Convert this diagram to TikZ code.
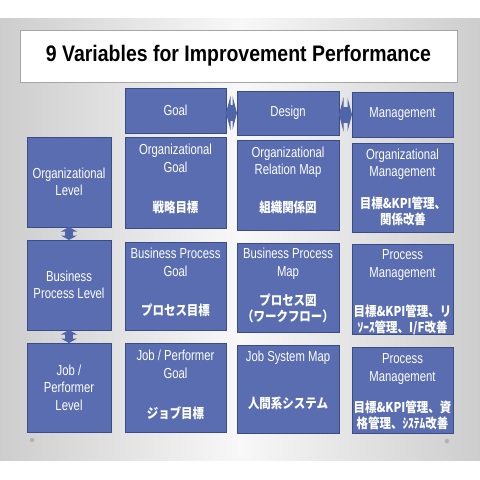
\documentclass[tikz,border=0pt]{standalone}
\usepackage{fontspec}
\setmainfont{Liberation Sans}[FakeStretch=0.78]
\newfontfamily\titlefont{Liberation Sans}[FakeStretch=0.865]
\newfontfamily\jpfont{Noto Sans CJK JP}[FakeStretch=0.85]
\usetikzlibrary{arrows.meta}
\definecolor{boxfill}{RGB}{89,109,176}
\definecolor{boxline}{RGB}{58,76,138}
\definecolor{arrcol}{RGB}{80,100,168}
\definecolor{bgedge}{RGB}{205,205,205}
\definecolor{bgmid}{RGB}{248,248,248}
\tikzset{
  box/.style={draw=boxline, fill=boxfill, line width=0.9pt, inner sep=0pt, outer sep=0pt,
    text=white, align=center, font=\fontsize{14.5}{17.5}\selectfont},
  en/.style={text=white, align=center, inner sep=0pt, font=\fontsize{14.5}{17.5}\selectfont},
  jp/.style={text=white, align=center, inner sep=0pt, font=\jpfont\bfseries\fontsize{13.5}{16}\selectfont},
  harr/.style={draw=arrcol, line width=16pt, {Triangle[length=4.5pt,width=34pt]}-{Triangle[length=4.5pt,width=34pt]}},
  varr/.style={draw=arrcol, line width=8pt, {Triangle[length=4.5pt,width=16pt]}-{Triangle[length=4.5pt,width=16pt]}},
  dot/.style={fill=gray!60, draw=none, circle, inner sep=0pt, minimum size=4.5pt}
}
\begin{document}
\begin{tikzpicture}[x=1pt,y=-1pt]
\useasboundingbox (0,0) rectangle (480,480);
\shade[left color=bgedge, right color=bgedge, middle color=bgmid] (0,18) rectangle (480,460);
% title
\node[draw=gray!70, fill=white, line width=0.8pt, minimum width=437, minimum height=52, inner sep=0pt,
  font=\titlefont\bfseries\fontsize{22.5}{26}\selectfont] (title) at (238.5,56) {9 Variables for Improvement Performance};
% headers
\node[box, minimum width=101, minimum height=45] (goal) at (175.5,110.5) {Goal};
\node[box, minimum width=102, minimum height=44] (design) at (288,113) {Design};
\node[box, minimum width=101, minimum height=45] (mgmt) at (402.5,114.5) {Management};
% levels
\node[box, minimum width=84, minimum height=90] (orglevel) at (69,182) {Organizational\\Level};
\node[box, minimum width=84, minimum height=90] (bplevel) at (69,285) {Business\\Process Level};
\node[box, minimum width=84, minimum height=89] (jplevel) at (69,387.5) {Job /\\Performer\\Level};
% content boxes
\node[box, minimum width=101, minimum height=91] (orggoal) at (175.5,182.5) {};
\node[box, minimum width=102, minimum height=90] (orgmap) at (288,185) {};
\node[box, minimum width=101, minimum height=89] (orgmgmt) at (402.5,187.5) {};
\node[box, minimum width=101, minimum height=88] (bpgoal) at (175.5,286) {};
\node[box, minimum width=102, minimum height=89] (bpmap) at (288,287.5) {};
\node[box, minimum width=101, minimum height=90] (procA) at (402.5,289) {};
\node[box, minimum width=101, minimum height=89] (jpgoal) at (175.5,387.5) {};
\node[box, minimum width=102, minimum height=88] (jsmap) at (288,389) {};
\node[box, minimum width=101, minimum height=86] (procB) at (402.5,390) {};
% english texts
\node[en] (e1) at (175.5,158.5) {Organizational\\Goal};
\node[en] (e2) at (288,162) {Organizational\\Relation Map};
\node[en] (e3) at (402.5,164) {Organizational\\Management};
\node[en] (e4) at (175.5,262.5) {Business Process\\Goal};
\node[en] (e5) at (288,263.5) {Business Process\\Map};
\node[en] (e6) at (402.5,265) {Process\\Management};
\node[en] (e7) at (175.5,364.5) {Job / Performer\\Goal};
\node[en] (e8) at (288,358) {Job System Map};
\node[en] (e9) at (402.5,369) {Process\\Management};
% japanese texts
\node[jp] (j1) at (175.5,207) {戦略目標};
\node[jp] (j2) at (288,207) {組織関係図};
\node[jp] (j3) at (403,211.5) {目標\&KPI管理、\\関係改善};
\node[jp] (j4) at (175.5,310) {プロセス目標};
\node[jp] (j5) at (288,308.5) {プロセス図\\（ワークフロー）};
\node[jp] (j6) at (402.5,319.5) {目標\&KPI管理、リ\\ｿｰｽ管理、I/F改善};
\node[jp] (j7) at (175.5,413) {ジョブ目標};
\node[jp] (j8) at (288,403) {人間系システム};
\node[jp] (j9) at (402.5,415.5) {目標\&KPI管理、資\\格管理、ｼｽﾃﾑ改善};
% connectors
\draw[harr] (goal.east |- design.west) -- (design.west);
\draw[harr] (design.east |- mgmt.west) -- (mgmt.west);
\draw[varr] (orglevel.south) -- (bplevel.north);
\draw[varr] (bplevel.south) -- (jplevel.north);
% dots
\node[dot] (d1) at (32,440) {};
\node[dot] (d2) at (447,441) {};
\end{tikzpicture}
\end{document}
